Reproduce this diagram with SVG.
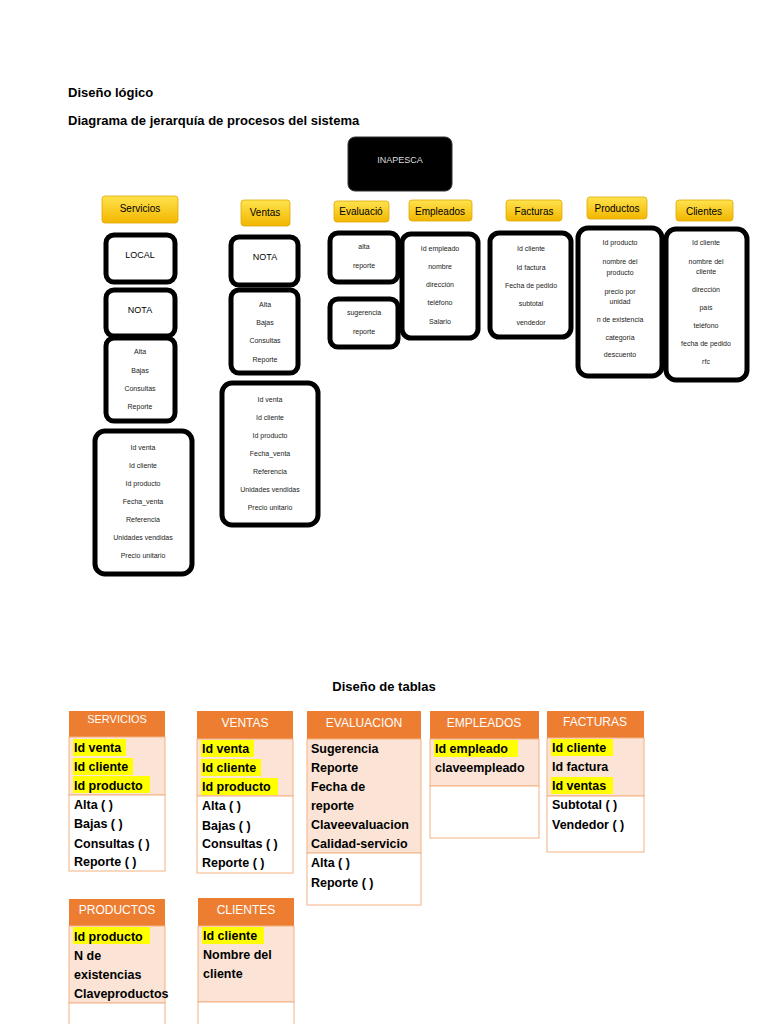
<svg xmlns="http://www.w3.org/2000/svg" width="768" height="1024" viewBox="0 0 768 1024">
<defs>
<linearGradient id="yg" x1="0" y1="0" x2="0" y2="1"><stop offset="0" stop-color="#FFE34D"/><stop offset="1" stop-color="#F2B600"/></linearGradient>
<style>
.t{font-family:"Liberation Sans",Arial,sans-serif;fill:#000}
.h{font-weight:bold;font-size:13px}
.y{fill:url(#yg);stroke:#E0A800;stroke-width:0.8}
.yl{font-size:10px;text-anchor:middle}
.b{fill:#fff;stroke:#000;stroke-width:5}
.s{font-size:7px;text-anchor:middle;fill:#222}
.m{font-size:9px;text-anchor:middle}
.th{fill:#ED7D31}
.pk{fill:#FBE4D5;stroke:#F4B183;stroke-width:1}
.wh{fill:#fff;stroke:#F4B183;stroke-width:1}
.tt{font-size:12px;fill:#fff;text-anchor:middle}
.r{font-weight:bold;font-size:12.5px}
.hl{fill:#FFFF00}
</style>
</defs>
<rect width="768" height="1024" fill="#fff"/>
<text class="t h" x="68" y="97">Diseño lógico</text>
<text class="t h" x="68" y="125">Diagrama de jerarquía de procesos del sistema</text>
<text class="t h" x="384" y="691" text-anchor="middle">Diseño de tablas</text>

<g id="inapesca"><rect x="348" y="137" width="104" height="54" rx="7" fill="#000" stroke="#333"/><text class="t m" x="400" y="163" style="fill:#ddd">INAPESCA</text></g>

<g id="servicios">
<rect class="y" x="102" y="196" width="76" height="27" rx="3"/><text class="t yl" x="140" y="212">Servicios</text>
<rect class="b" x="106" y="235" width="69" height="47" rx="8"/><text class="t m" x="140" y="258">LOCAL</text>
<rect class="b" x="106" y="290" width="69" height="46" rx="8"/><text class="t m" x="140" y="313">NOTA</text>
<rect class="b" x="106" y="338" width="69" height="83" rx="8"/>
<text class="t s" x="140" y="354">Alta</text><text class="t s" x="140" y="373">Bajas</text><text class="t s" x="140" y="391">Consultas</text><text class="t s" x="140" y="409">Reporte</text>
<rect class="b" x="95" y="431" width="97" height="143" rx="10"/>
<text class="t s" x="143" y="450">Id venta</text><text class="t s" x="143" y="468">Id cliente</text><text class="t s" x="143" y="486">Id producto</text><text class="t s" x="143" y="504">Fecha_venta</text><text class="t s" x="143" y="522">Referencia</text><text class="t s" x="143" y="540">Unidades vendidas</text><text class="t s" x="143" y="558">Precio unitario</text>
</g>

<g id="ventas">
<rect class="y" x="241" y="200" width="49" height="26" rx="3"/><text class="t yl" x="265" y="216">Ventas</text>
<rect class="b" x="231" y="237" width="67" height="48" rx="8"/><text class="t m" x="265" y="260">NOTA</text>
<rect class="b" x="231" y="290" width="67" height="83" rx="8"/>
<text class="t s" x="265" y="307">Alta</text><text class="t s" x="265" y="325">Bajas</text><text class="t s" x="265" y="343">Consultas</text><text class="t s" x="265" y="362">Reporte</text>
<rect class="b" x="222" y="383" width="96" height="142" rx="10"/>
<text class="t s" x="270" y="402">Id venta</text><text class="t s" x="270" y="420">Id cliente</text><text class="t s" x="270" y="438">Id producto</text><text class="t s" x="270" y="456">Fecha_venta</text><text class="t s" x="270" y="474">Referencia</text><text class="t s" x="270" y="492">Unidades vendidas</text><text class="t s" x="270" y="510">Precio unitario</text>
</g>

<g id="evaluacion">
<rect class="y" x="334" y="201" width="55" height="21" rx="3"/><text class="t yl" x="361" y="215">Evaluació</text>
<rect class="b" x="330" y="233" width="68" height="49" rx="8"/><text class="t s" x="364" y="249">alta</text><text class="t s" x="364" y="268">reporte</text>
<rect class="b" x="330" y="299" width="68" height="48" rx="8"/><text class="t s" x="364" y="315">sugerencia</text><text class="t s" x="364" y="334">reporte</text>
</g>

<g id="empleados">
<rect class="y" x="409" y="200" width="63" height="21" rx="3"/><text class="t yl" x="440" y="215">Empleados</text>
<rect class="b" x="402" y="234" width="76" height="104" rx="9"/>
<text class="t s" x="440" y="251">Id empleado</text><text class="t s" x="440" y="269">nombre</text><text class="t s" x="440" y="287">dirección</text><text class="t s" x="440" y="305">teléfono</text><text class="t s" x="440" y="324">Salario</text>
</g>

<g id="facturas">
<rect class="y" x="506" y="200" width="56" height="21" rx="3"/><text class="t yl" x="534" y="215">Facturas</text>
<rect class="b" x="490" y="233" width="81" height="104" rx="9"/>
<text class="t s" x="531" y="251">Id cliente</text><text class="t s" x="531" y="270">Id factura</text><text class="t s" x="531" y="288">Fecha de pedido</text><text class="t s" x="531" y="306">subtotal</text><text class="t s" x="531" y="325">vendedor</text>
</g>

<g id="productos">
<rect class="y" x="587" y="197" width="60" height="22" rx="3"/><text class="t yl" x="617" y="212">Productos</text>
<rect class="b" x="578" y="228" width="84" height="148" rx="10"/>
<text class="t s" x="620" y="245">Id producto</text><text class="t s" x="620" y="264">nombre del</text><text class="t s" x="620" y="275">producto</text><text class="t s" x="620" y="294">precio por</text><text class="t s" x="620" y="304">unidad</text><text class="t s" x="620" y="322">n de existencia</text><text class="t s" x="620" y="340">categoría</text><text class="t s" x="620" y="357">descuento</text>
</g>

<g id="clientes">
<rect class="y" x="676" y="200" width="57" height="21" rx="3"/><text class="t yl" x="704" y="215">Clientes</text>
<rect class="b" x="666" y="229" width="81" height="151" rx="10"/>
<text class="t s" x="706" y="245">Id cliente</text><text class="t s" x="706" y="264">nombre del</text><text class="t s" x="706" y="274">cliente</text><text class="t s" x="706" y="292">dirección</text><text class="t s" x="706" y="310">país</text><text class="t s" x="706" y="328">teléfono</text><text class="t s" x="706" y="346">fecha de pedido</text><text class="t s" x="706" y="364">rfc</text>
</g>

<g id="connectors"></g>

<g id="t-servicios">
<rect class="th" x="69" y="711" width="96" height="26"/><text class="t tt" x="117" y="723" style="font-size:11px">SERVICIOS</text>
<rect class="pk" x="69" y="737" width="96" height="58"/><rect class="wh" x="69" y="795" width="96" height="76"/>
<rect class="hl" x="73" y="739" width="53" height="17"/><rect class="hl" x="73" y="758" width="60" height="17"/><rect class="hl" x="73" y="776" width="77" height="17"/>
<text class="t r" x="74" y="752">Id venta</text><text class="t r" x="74" y="771">Id cliente</text><text class="t r" x="74" y="790">Id producto</text>
<text class="t r" x="74" y="809">Alta ( )</text><text class="t r" x="74" y="828">Bajas ( )</text><text class="t r" x="74" y="848">Consultas ( )</text><text class="t r" x="74" y="866">Reporte ( )</text>
</g>

<g id="t-ventas">
<rect class="th" x="197" y="711" width="96" height="28"/><text class="t tt" x="245" y="727">VENTAS</text>
<rect class="pk" x="197" y="739" width="96" height="57"/><rect class="wh" x="197" y="796" width="96" height="77"/>
<rect class="hl" x="201" y="740" width="53" height="17"/><rect class="hl" x="201" y="759" width="60" height="17"/><rect class="hl" x="201" y="778" width="77" height="17"/>
<text class="t r" x="202" y="753">Id venta</text><text class="t r" x="202" y="772">Id cliente</text><text class="t r" x="202" y="791">Id producto</text>
<text class="t r" x="202" y="810">Alta ( )</text><text class="t r" x="202" y="830">Bajas ( )</text><text class="t r" x="202" y="848">Consultas ( )</text><text class="t r" x="202" y="867">Reporte ( )</text>
</g>

<g id="t-evaluacion">
<rect class="th" x="307" y="711" width="114" height="28"/><text class="t tt" x="364" y="727">EVALUACION</text>
<rect class="pk" x="307" y="739" width="114" height="114"/><rect class="wh" x="307" y="853" width="114" height="52"/>
<text class="t r" x="311" y="753">Sugerencia</text><text class="t r" x="311" y="772">Reporte</text><text class="t r" x="311" y="791">Fecha de</text><text class="t r" x="311" y="810">reporte</text><text class="t r" x="311" y="829">Claveevaluacion</text><text class="t r" x="311" y="848">Calidad-servicio</text><text class="t r" x="311" y="867">Alta ( )</text><text class="t r" x="311" y="887">Reporte ( )</text>
</g>

<g id="t-empleados">
<rect class="th" x="430" y="711" width="109" height="28"/><text class="t tt" x="484" y="727">EMPLEADOS</text>
<rect class="pk" x="430" y="739" width="109" height="47"/><rect class="wh" x="430" y="786" width="109" height="52"/>
<rect class="hl" x="434" y="740" width="84" height="17"/>
<text class="t r" x="435" y="753">Id empleado</text><text class="t r" x="435" y="772">claveempleado</text>
</g>

<g id="t-facturas">
<rect class="th" x="547" y="711" width="97" height="27"/><text class="t tt" x="595" y="726">FACTURAS</text>
<rect class="pk" x="547" y="738" width="97" height="58"/><rect class="wh" x="547" y="796" width="97" height="56"/>
<rect class="hl" x="551" y="739" width="62" height="17"/><rect class="hl" x="551" y="777" width="62" height="17"/>
<text class="t r" x="552" y="752">Id cliente</text><text class="t r" x="552" y="771">Id factura</text><text class="t r" x="552" y="790">Id ventas</text>
<text class="t r" x="552" y="809">Subtotal ( )</text><text class="t r" x="552" y="829">Vendedor ( )</text>
</g>

<g id="t-productos">
<rect class="th" x="69" y="899" width="96" height="27"/><text class="t tt" x="117" y="914">PRODUCTOS</text>
<rect class="pk" x="69" y="926" width="96" height="77"/><rect class="wh" x="69" y="1003" width="96" height="30"/>
<rect class="hl" x="73" y="927" width="77" height="17"/>
<text class="t r" x="74" y="941">Id producto</text><text class="t r" x="74" y="960">N de</text><text class="t r" x="74" y="979">existencias</text><text class="t r" x="74" y="998">Claveproductos</text>
</g>

<g id="t-clientes">
<rect class="th" x="198" y="898" width="96" height="28"/><text class="t tt" x="246" y="914">CLIENTES</text>
<rect class="pk" x="198" y="926" width="96" height="76"/><rect class="wh" x="198" y="1002" width="96" height="30"/>
<rect class="hl" x="202" y="927" width="62" height="17"/>
<text class="t r" x="203" y="940">Id cliente</text><text class="t r" x="203" y="959">Nombre del</text><text class="t r" x="203" y="978">cliente</text>
</g>
</svg>
